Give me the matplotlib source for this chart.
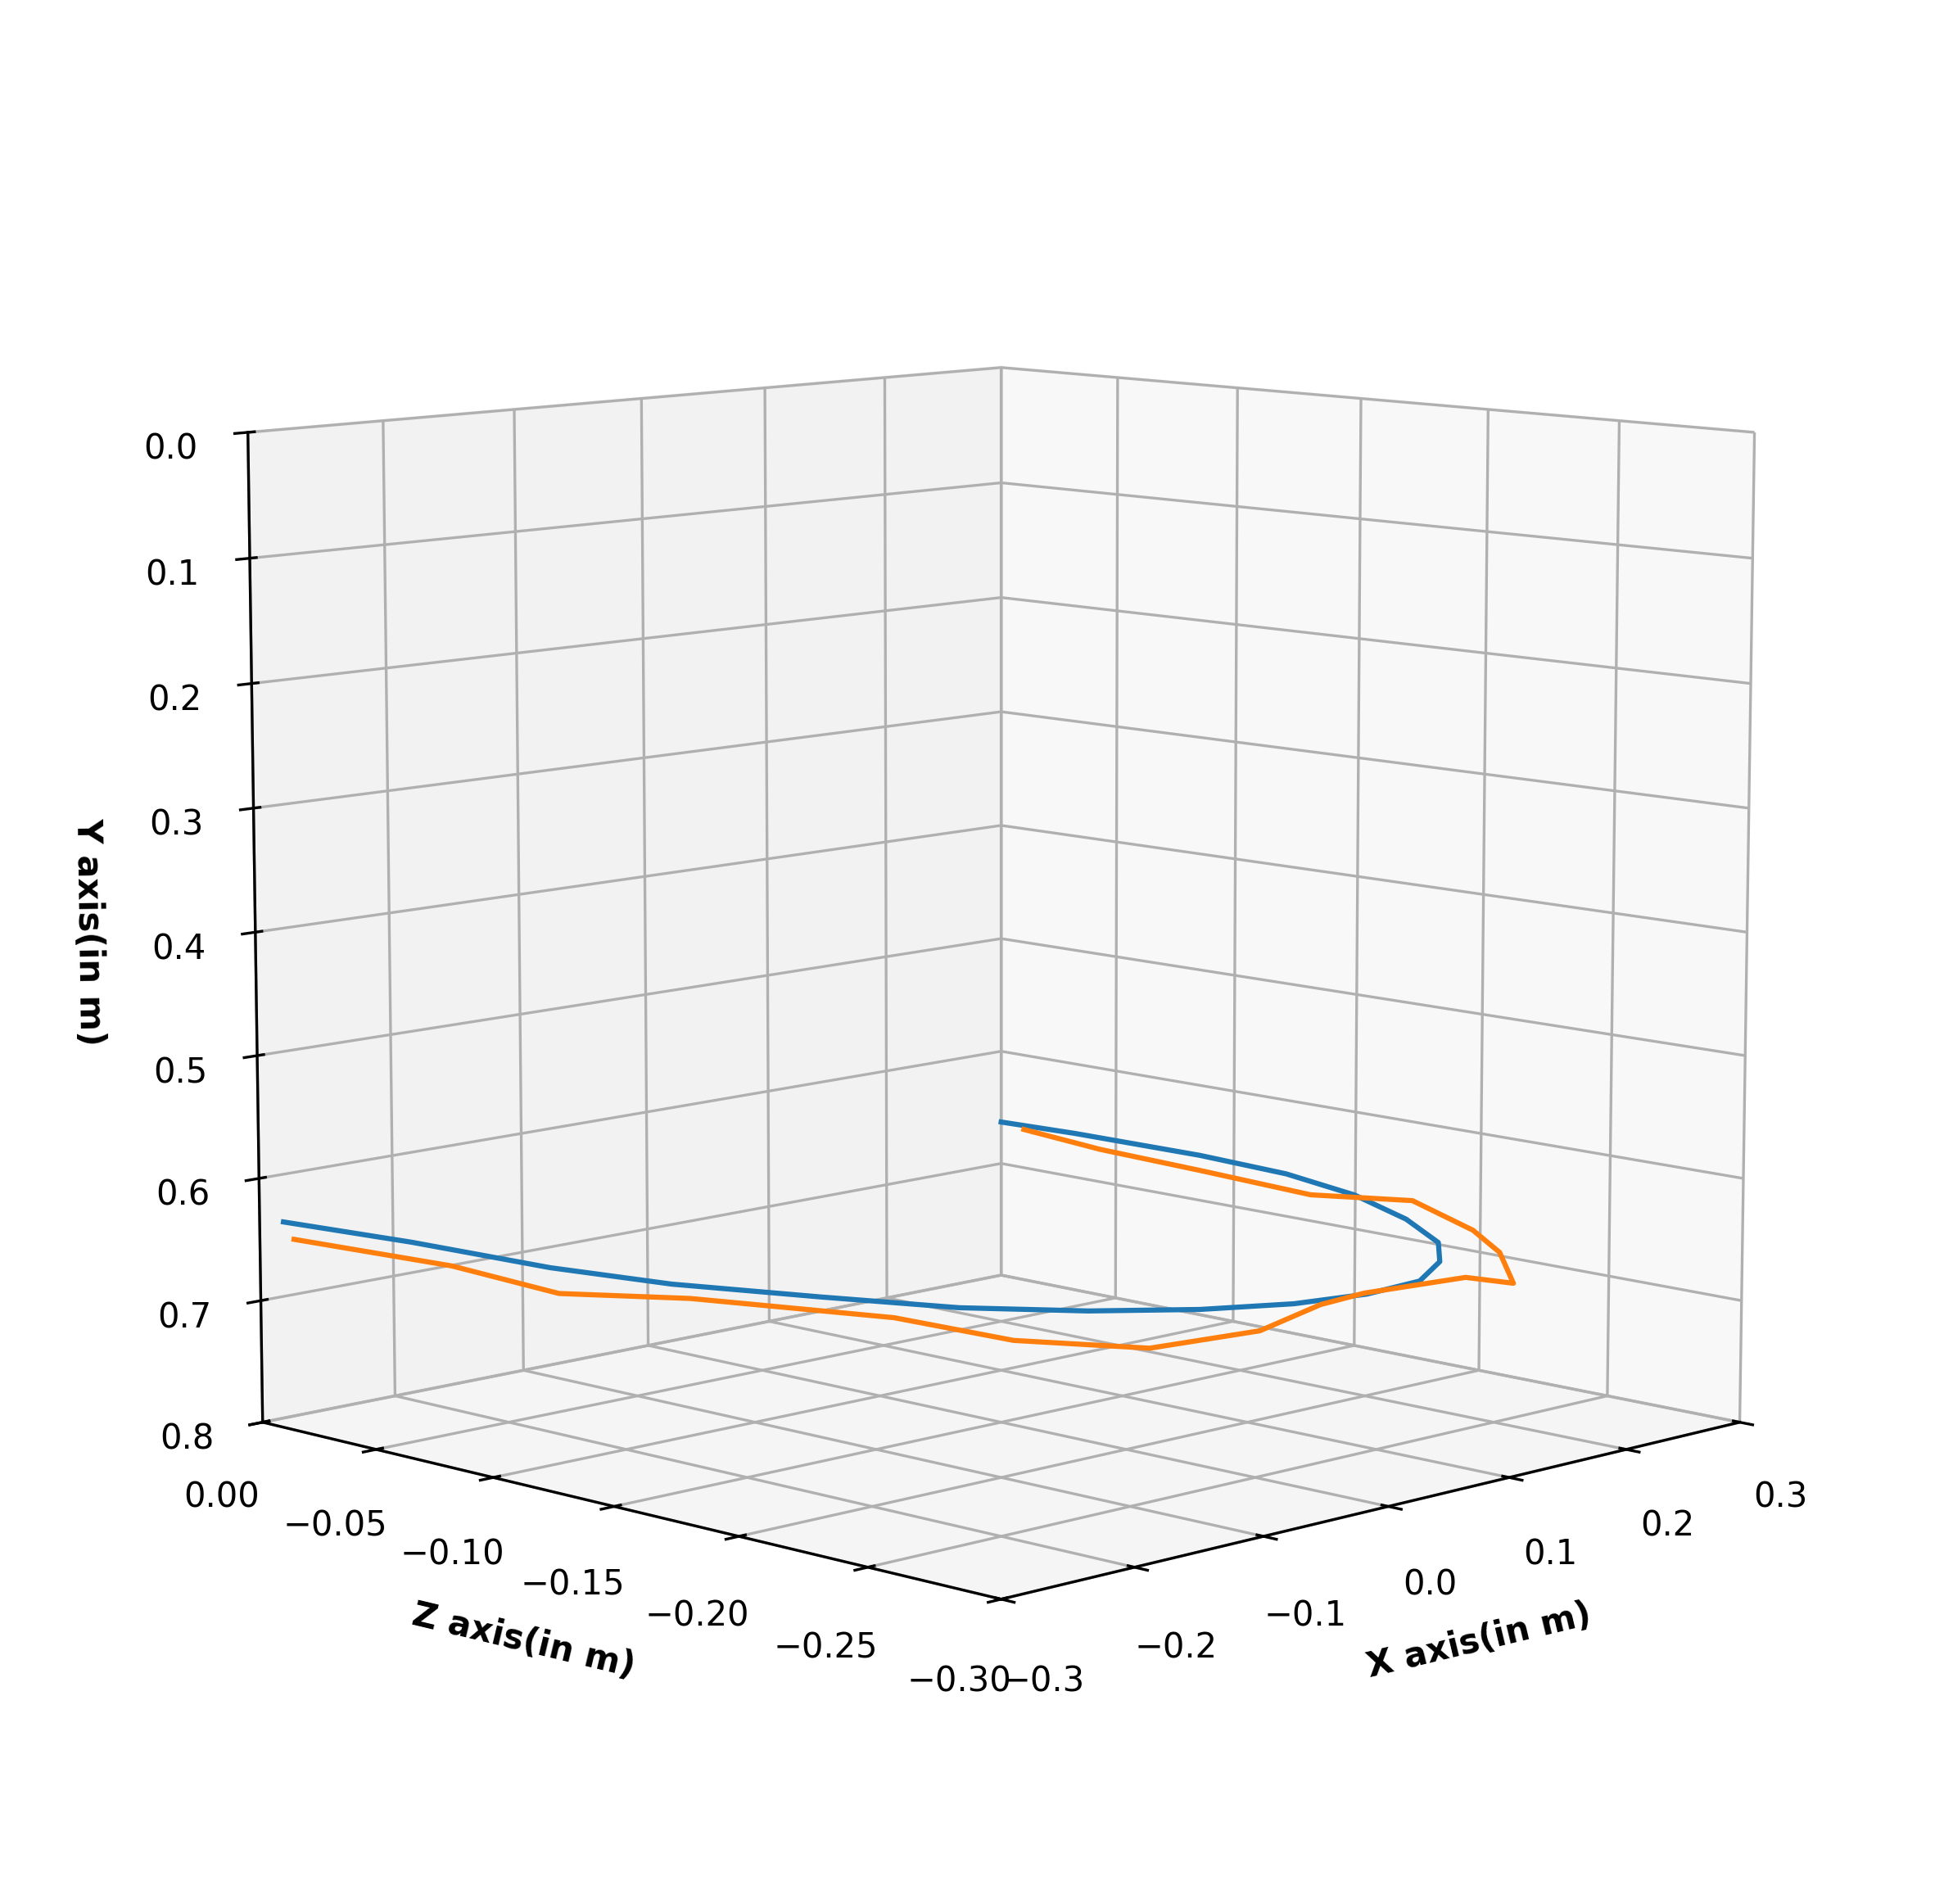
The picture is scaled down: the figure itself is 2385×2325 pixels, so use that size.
import matplotlib
matplotlib.use("Agg")
import matplotlib.pyplot as plt

# trajectories: X, Z, Y (in m)
blue_x = [0.30, 0.288, 0.27, 0.252, 0.24, 0.228, 0.216, 0.204, 0.18, 0.144, 0.102, 0.06, 0.012,
          -0.036, -0.09, -0.144, -0.192, -0.246, -0.294]
blue_z = [0.0, -0.038, -0.10, -0.144, -0.177, -0.203, -0.221, -0.227, -0.230, -0.226, -0.217, -0.200,
          -0.179, -0.151, -0.122, -0.089, -0.064, -0.035, -0.007]
blue_y = [0.663, 0.657, 0.650, 0.646, 0.649, 0.657, 0.667, 0.678, 0.688, 0.693, 0.696, 0.699, 0.699,
          0.698, 0.690, 0.682, 0.669, 0.649, 0.634]

orange_x = [0.30, 0.288, 0.27, 0.252, 0.24, 0.228, 0.222, 0.216, 0.204, 0.168, 0.144, 0.108, 0.048,
            -0.018, -0.072, -0.15, -0.198, -0.24, -0.288]
orange_z = [-0.010, -0.049, -0.100, -0.154, -0.200, -0.229, -0.242, -0.250, -0.237, -0.214, -0.208,
            -0.201, -0.186, -0.164, -0.143, -0.100, -0.071, -0.049, -0.008]
orange_y = [0.666, 0.667, 0.663, 0.660, 0.645, 0.656, 0.668, 0.689, 0.687, 0.702, 0.709, 0.726, 0.734,
            0.723, 0.702, 0.688, 0.686, 0.664, 0.649]

fig = plt.figure(figsize=(7.95, 7.75), dpi=300)
fig.subplots_adjust(left=0.115, right=0.89, bottom=0.115, top=0.885)
ax = fig.add_subplot(projection='3d')
ax.plot(blue_x, blue_z, blue_y, color='tab:blue')
ax.plot(orange_x, orange_z, orange_y, color='tab:orange')
ax.set_xlim(-0.3, 0.3)
ax.set_ylim(-0.3, 0.0)
ax.set_zlim(0.8, 0.0)
ax.set_xlabel('X axis(in m)', fontweight='bold')
ax.set_ylabel('Z axis(in m)', fontweight='bold')
ax.set_zlabel('Y axis(in m)', fontweight='bold')
ax.set_box_aspect((1, 1, 0.95), zoom=1.19)
ax.view_init(elev=9, azim=-135)
fig.savefig('out.png')
